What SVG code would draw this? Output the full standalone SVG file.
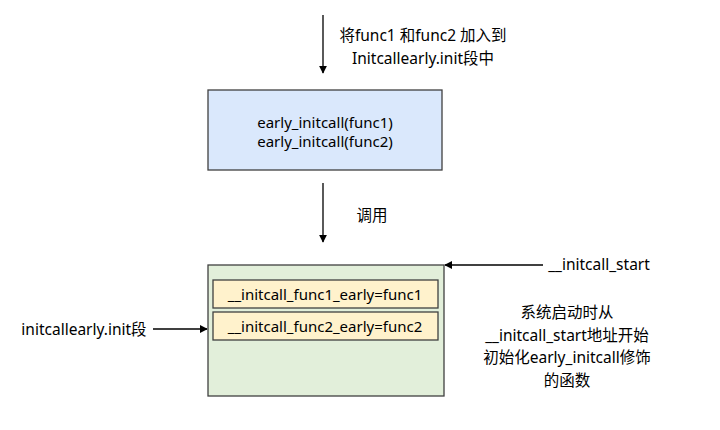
<svg xmlns="http://www.w3.org/2000/svg" width="720" height="430" viewBox="0 0 720 430">
<style>
text{font-family:"Noto Sans","Noto Sans CJK SC",sans-serif;font-size:15.5px;fill:#000;text-anchor:middle;dominant-baseline:central}
.bt{font-size:15px}
.box{stroke:#404040;stroke-width:1.3}
.ln{stroke:#000;stroke-width:1.3;fill:none}
</style>
<defs>
<marker id="ah" viewBox="0 0 10 10" refX="9" refY="5" markerWidth="8" markerHeight="8" markerUnits="userSpaceOnUse" orient="auto">
<path d="M0,0 L10,5 L0,10 Z" fill="#000"/>
</marker>
</defs>
<rect width="720" height="430" fill="#fff"/>
<g id="connectors">
<line class="ln" x1="323" y1="15" x2="323" y2="73" marker-end="url(#ah)"/>
<line class="ln" x1="323" y1="183" x2="323" y2="242" marker-end="url(#ah)"/>
<line class="ln" x1="153" y1="329" x2="207" y2="329" marker-end="url(#ah)"/>
<line class="ln" x1="543" y1="265" x2="445" y2="265" marker-end="url(#ah)"/>
</g>
<g id="label-top">
<text x="423" y="35">将func1 和func2 加入到</text>
<text x="423" y="58">Initcallearly.init段中</text>
</g>
<g id="macro-box">
<rect class="box" x="208" y="90" width="234" height="80" fill="#dae8fc"/>
<text class="bt" x="325" y="122">early_initcall(func1)</text>
<text class="bt" x="325" y="141">early_initcall(func2)</text>
</g>
<g id="label-call">
<text x="372" y="215">调用</text>
</g>
<g id="section-box">
<rect class="box" x="208" y="265" width="236" height="131" fill="#e2efda"/>
</g>
<g id="entry1">
<rect class="box" x="213" y="280" width="225" height="28" fill="#fff2cc"/>
<text class="bt" x="325" y="294">__initcall_func1_early=func1</text>
</g>
<g id="entry2">
<rect class="box" x="213" y="312" width="225" height="28" fill="#fff2cc"/>
<text class="bt" x="325" y="326">__initcall_func2_early=func2</text>
</g>
<g id="label-section">
<text x="84" y="329">initcallearly.init段</text>
</g>
<g id="label-start">
<text x="599" y="264">__initcall_start</text>
</g>
<g id="label-desc">
<text x="567" y="312">系统启动时从</text>
<text x="567" y="335">__initcall_start地址开始</text>
<text x="567" y="357">初始化early_initcall修饰</text>
<text x="567" y="380">的函数</text>
</g>
</svg>
